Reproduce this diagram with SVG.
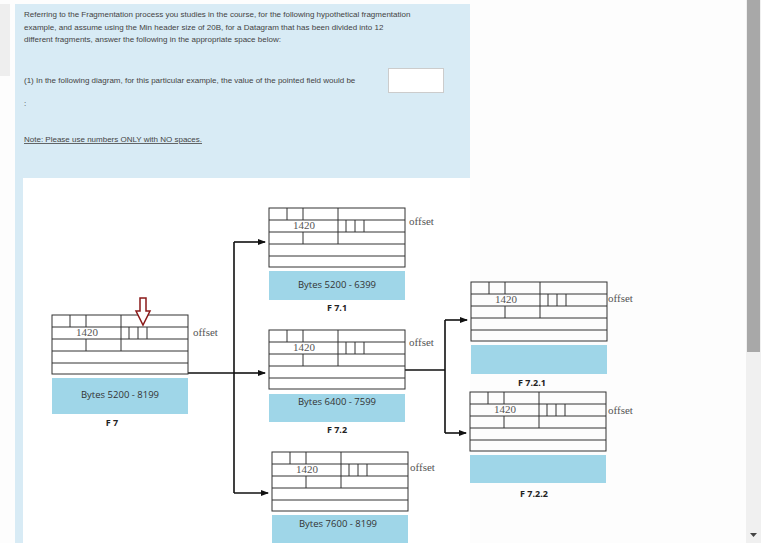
<svg xmlns="http://www.w3.org/2000/svg" xmlns:xlink="http://www.w3.org/1999/xlink" width="761" height="543" viewBox="0 0 761 543">
<style>
.q{font-family:"Liberation Sans",Arial,sans-serif;font-size:8px;fill:#444}
.t{fill:none;stroke:#333;stroke-width:1}
.s{font-family:"Liberation Serif","Times New Roman",serif;font-size:11px;fill:#555}
.b{fill:#9fd6e8}
.bl{font-family:"Open Sans","Liberation Sans",sans-serif;font-size:9.5px;fill:#333;text-anchor:middle}
.fl{font-family:"Open Sans","Liberation Sans",sans-serif;font-size:9px;font-weight:bold;fill:#222;text-anchor:middle}
.c{fill:none;stroke:#111;stroke-width:1.6}
</style>
<defs>
<marker id="ar" markerWidth="8" markerHeight="8" refX="7" refY="4" orient="auto" markerUnits="userSpaceOnUse"><path d="M0,1 L8,4 L0,7 Z" fill="#111"/></marker>
<g id="tbl">
<rect class="t" x="0" y="0" width="136" height="59"/>
<path class="t" d="M0,12H136M0,24H136M0,36H136M0,48H136M18,0V12M34,0V12M34,24V36M69,0V36M77,12V24M86,12V24M95,12V24"/>
<text class="s" x="35" y="21" text-anchor="middle">1420</text>
</g>
</defs>
<rect width="761" height="543" fill="#fdfdfd"/>
<rect x="0" y="4" width="10" height="72" fill="#eeeeee"/>
<rect x="15" y="4" width="455" height="539" fill="#d8ebf5"/>
<rect x="23" y="178" width="447" height="365" fill="#ffffff"/>
<rect x="746" y="0" width="15" height="543" fill="#f0f0f0"/>
<rect x="747" y="0" width="13" height="352" fill="#a8a8a8"/>
<path d="M750,533 L757,533 L753.5,537 Z" fill="#444"/>
<text class="q" x="24" y="17">Referring to the Fragmentation process you studies in the course, for the following hypothetical fragmentation</text>
<text class="q" x="24" y="30">example, and assume using the Min header size of 20B, for a Datagram that has been divided into 12</text>
<text class="q" x="24" y="42">different fragments, answer the following in the appropriate space below:</text>
<text class="q" x="24" y="83">(1) In the following diagram, for this particular example, the value of the pointed field would be</text>
<rect x="388.5" y="68.5" width="55" height="24" fill="#fff" stroke="#ccc"/>
<text class="q" x="24" y="106">:</text>
<text class="q" x="24" y="142" text-decoration="underline">Note: Please use numbers ONLY with NO spaces.</text>
<g id="connectors">
<path class="c" d="M188,373H234M234,242V493"/>
<path class="c" d="M234,242H265" marker-end="url(#ar)"/>
<path class="c" d="M234,373H265" marker-end="url(#ar)"/>
<path class="c" d="M234,493H268" marker-end="url(#ar)"/>
<path class="c" d="M405,370H445M445,320V433"/>
<path class="c" d="M445,320H467" marker-end="url(#ar)"/>
<path class="c" d="M445,433H466" marker-end="url(#ar)"/>
</g>
<g id="F7">
<use xlink:href="#tbl" x="52" y="315"/>
<rect class="b" x="52" y="378" width="136" height="36"/>
<text class="bl" x="120" y="398">Bytes 5200 - 8199</text>
<text class="fl" x="112" y="426">F 7</text>
<text class="s" x="193" y="336">offset</text>
<path d="M140,298H146V311H150L143,325L136,311H140Z" fill="#fff" stroke="#8b1a1a" stroke-width="1.5"/>
</g>
<g id="F7.1">
<use xlink:href="#tbl" x="269" y="208"/>
<rect class="b" x="269" y="271" width="136" height="29"/>
<text class="bl" x="337" y="288">Bytes 5200 - 6399</text>
<text class="fl" x="337" y="311">F 7.1</text>
<text class="s" x="409" y="225">offset</text>
</g>
<g id="F7.2">
<use xlink:href="#tbl" x="269" y="330"/>
<rect class="b" x="269" y="394" width="136" height="28"/>
<text class="bl" x="337" y="405">Bytes 6400 - 7599</text>
<text class="fl" x="337" y="433">F 7.2</text>
<text class="s" x="409" y="346">offset</text>
</g>
<g id="F7.3">
<use xlink:href="#tbl" x="272" y="452"/>
<rect class="b" x="272" y="515" width="136" height="28"/>
<text class="bl" x="338" y="527">Bytes 7600 - 8199</text>
<text class="s" x="410" y="471">offset</text>
</g>
<g id="F7.2.1">
<use xlink:href="#tbl" x="471" y="282"/>
<rect class="b" x="471" y="345" width="136" height="29"/>
<text class="fl" x="532" y="386">F 7.2.1</text>
<text class="s" x="608" y="302">offset</text>
</g>
<g id="F7.2.2">
<use xlink:href="#tbl" x="470" y="392"/>
<rect class="b" x="470" y="455" width="136" height="28"/>
<text class="fl" x="534" y="497">F 7.2.2</text>
<text class="s" x="608" y="414">offset</text>
</g>
</svg>
